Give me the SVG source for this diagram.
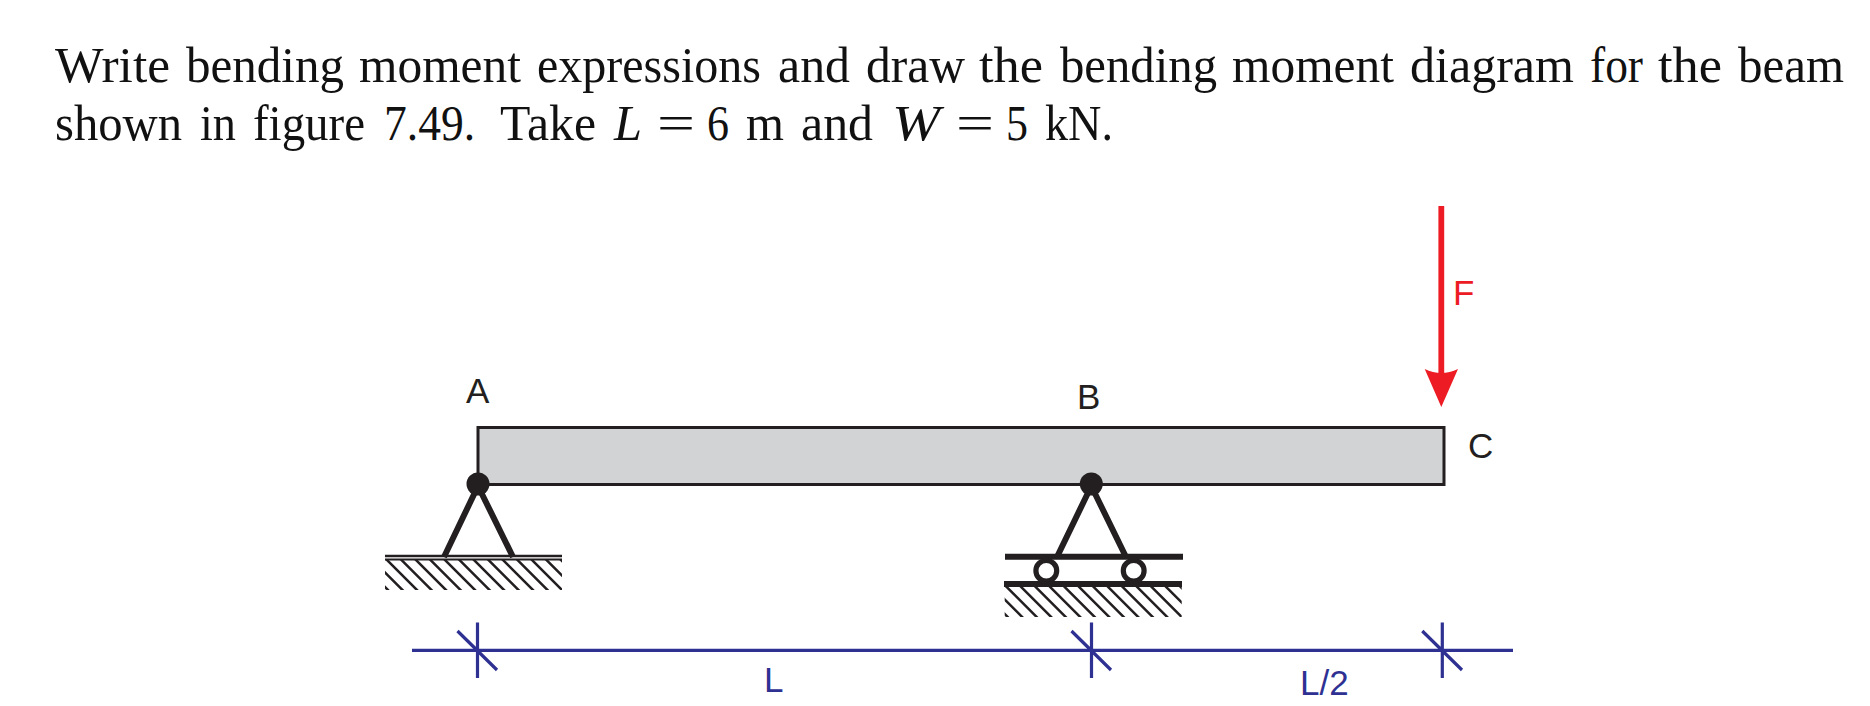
<svg xmlns="http://www.w3.org/2000/svg" width="1870" height="706" viewBox="0 0 1870 706">
<defs>
<style>
.t{font-family:"Liberation Serif",serif;font-size:50px;fill:#111}
.i{font-style:italic}
.l{font-family:"Liberation Sans",Arial,sans-serif;font-size:35px;fill:#231f20}
.k{stroke:#231f20;fill:none}
.d{stroke:#2e3192;stroke-width:3.200;fill:none}
.h{stroke:#231f20;stroke-width:2.500;fill:none}
</style>
<clipPath id="hc"><rect x="-2" y="0" width="177" height="30"/></clipPath>
<path id="hatch" class="h" d="M-31 -2l34 34M-16.500 -2l34 34M-2 -2l34 34M12.500 -2l34 34M27 -2l34 34M41.500 -2l34 34M56 -2l34 34M70.500 -2l34 34M85 -2l34 34M99.500 -2l34 34M114 -2l34 34M128.500 -2l34 34M143 -2l34 34M157.500 -2l34 34M172 -2l34 34"/>
</defs>
<rect width="1870" height="706" fill="#fff"/>
<g id="problem-text">
<text class="t" y="81.500" lengthAdjust="spacingAndGlyphs"><tspan x="55" textLength="115" lengthAdjust="spacingAndGlyphs">Write</tspan> <tspan x="186" textLength="158" lengthAdjust="spacingAndGlyphs">bending</tspan> <tspan x="359" textLength="162" lengthAdjust="spacingAndGlyphs">moment</tspan> <tspan x="537" textLength="224" lengthAdjust="spacingAndGlyphs">expressions</tspan> <tspan x="778" textLength="72" lengthAdjust="spacingAndGlyphs">and</tspan> <tspan x="866" textLength="99" lengthAdjust="spacingAndGlyphs">draw</tspan> <tspan x="979" textLength="64" lengthAdjust="spacingAndGlyphs">the</tspan> <tspan x="1060" textLength="157" lengthAdjust="spacingAndGlyphs">bending</tspan> <tspan x="1232" textLength="162" lengthAdjust="spacingAndGlyphs">moment</tspan> <tspan x="1410" textLength="164" lengthAdjust="spacingAndGlyphs">diagram</tspan> <tspan x="1590" textLength="53" lengthAdjust="spacingAndGlyphs">for</tspan> <tspan x="1658" textLength="64" lengthAdjust="spacingAndGlyphs">the</tspan> <tspan x="1738" textLength="106" lengthAdjust="spacingAndGlyphs">beam</tspan></text>
<text class="t" y="140"><tspan x="55" textLength="127" lengthAdjust="spacingAndGlyphs">shown</tspan> <tspan x="200" textLength="36" lengthAdjust="spacingAndGlyphs">in</tspan> <tspan x="253" textLength="112" lengthAdjust="spacingAndGlyphs">figure</tspan> <tspan x="384" textLength="91" lengthAdjust="spacingAndGlyphs">7.49.</tspan> <tspan x="500" textLength="96" lengthAdjust="spacingAndGlyphs">Take</tspan> <tspan class="i" x="614" textLength="28" lengthAdjust="spacingAndGlyphs">L</tspan> <tspan x="657" textLength="38" lengthAdjust="spacingAndGlyphs">=</tspan> <tspan x="707" textLength="22" lengthAdjust="spacingAndGlyphs">6</tspan> <tspan x="746" textLength="38" lengthAdjust="spacingAndGlyphs">m</tspan> <tspan x="801" textLength="72" lengthAdjust="spacingAndGlyphs">and</tspan> <tspan class="i" x="892" textLength="48" lengthAdjust="spacingAndGlyphs">W</tspan> <tspan x="956" textLength="38" lengthAdjust="spacingAndGlyphs">=</tspan> <tspan x="1006" textLength="22" lengthAdjust="spacingAndGlyphs">5</tspan> <tspan x="1045" textLength="68" lengthAdjust="spacingAndGlyphs">kN.</tspan></text>
</g>
<g id="beam"><rect x="478" y="427.500" width="966" height="57" fill="#d1d3d4" stroke="#231f20" stroke-width="3"/></g>
<g id="support-a">
<path class="k" stroke-width="6" d="M444 557L478 486L513 557"/>
<circle cx="478" cy="484" r="11.500" fill="#231f20"/>
<path class="k" stroke-width="2.500" d="M385 556H562"/>
<path class="k" stroke-width="2" d="M385 559.500H562"/>
<g transform="translate(387 560)"><use href="#hatch" clip-path="url(#hc)"/></g>
</g>
<g id="support-b">
<path class="k" stroke-width="6" d="M1057 557L1091.300 486L1126 557"/>
<circle cx="1091.300" cy="484" r="11.500" fill="#231f20"/>
<path class="k" stroke-width="6" d="M1005 556.700H1183M1004 584H1182"/>
<circle cx="1046.300" cy="570.700" r="10.400" fill="#fff" stroke="#231f20" stroke-width="5.200"/>
<circle cx="1133.700" cy="570.700" r="10.400" fill="#fff" stroke="#231f20" stroke-width="5.200"/>
<g transform="translate(1006.700 587)"><use href="#hatch" clip-path="url(#hc)"/></g>
</g>
<g id="connectors">
<path class="d" d="M412 650.300H1513"/>
<path class="d" d="M477.500 622.500V678M457.500 631L497 670"/>
<path class="d" d="M1091.500 622.500V678M1071.500 631L1111 670"/>
<path class="d" d="M1442.300 622.500V678M1422.300 631L1462 670"/>
<path d="M1441.300 206V375" stroke="#ed1c24" stroke-width="5.800" fill="none"/>
<path d="M1441.300 407L1424.700 369Q1441.300 377 1458 369Z" fill="#ed1c24"/>
</g>
<g id="labels">
<text class="l" x="466" y="402.500">A</text>
<text class="l" x="1077" y="409">B</text>
<text class="l" x="1468" y="457.500">C</text>
<text class="l" x="1453" y="305" style="fill:#ed1c24">F</text>
<text class="l" x="764" y="691.700" style="fill:#2e3192">L</text>
<text class="l" x="1300" y="695" style="fill:#2e3192">L/2</text>
</g>
</svg>
